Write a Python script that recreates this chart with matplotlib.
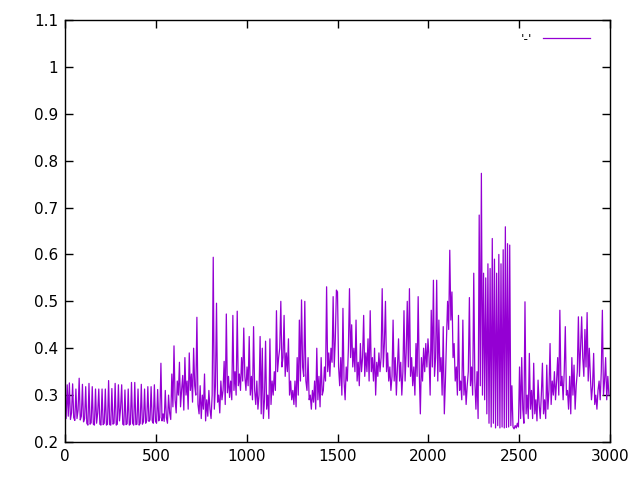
import numpy as np
import matplotlib
matplotlib.use("Agg")
import matplotlib.pyplot as plt

# sample values (thousandths), one every 6 x-units starting at 0
vals_0000 = [268, 250, 322, 255, 326, 248, 262, 324, 252, 246,
             313, 250, 268, 336, 247, 255, 323, 243, 250, 318,
             240, 236, 325, 238, 241, 318, 238, 236, 313, 240,
             262, 313, 238, 236, 313, 237, 240, 313, 236, 238,
             331, 237, 236, 314, 238, 240, 325, 236, 238, 322,
             245, 272, 322, 238, 236, 311, 237, 239, 313, 236,
             238, 327, 240, 236, 327, 237, 238, 313, 236, 240,
             323, 238, 243, 313, 240, 246, 318, 244, 247, 318,
             245, 240, 322, 244, 240, 312, 245, 252, 368, 245]
vals_0540 = [260, 244, 310, 252, 240, 300, 262, 248, 345, 275,
             405, 290, 262, 330, 300, 370, 275, 312, 342, 268,
             380, 300, 330, 270, 390, 310, 345, 285, 400, 320,
             300, 466, 280, 260, 320, 250, 300, 270, 345, 245,
             290, 255, 310, 270, 250, 300, 594, 270, 320, 496,
             285, 300, 262, 330, 290, 310, 372, 280, 473, 305,
             340, 295, 330, 290, 470, 310, 350, 300, 479, 320,
             345, 310, 380, 330, 443, 340, 310, 360, 320, 425]
vals_1020 = [300, 340, 290, 446, 310, 280, 330, 270, 300, 425,
             260, 400, 250, 290, 415, 270, 300, 250, 420, 280,
             330, 300, 350, 310, 480, 350, 380, 400, 500, 360,
             380, 470, 340, 390, 350, 420, 300, 330, 290, 310,
             280, 330, 275, 380, 300, 460, 330, 503, 360, 340,
             500, 330, 310, 380, 290, 300, 270, 310, 285, 330,
             270, 400, 290, 340, 275, 380, 300, 310, 360, 330,
             531, 350, 390, 340, 400, 370, 510, 360, 420, 524]
vals_1500 = [520, 360, 320, 380, 300, 485, 330, 290, 360, 330,
             400, 527, 380, 450, 360, 400, 350, 460, 330, 370,
             320, 410, 350, 380, 470, 340, 390, 350, 420, 330,
             480, 350, 380, 330, 400, 300, 370, 340, 390, 350,
             380, 527, 360, 410, 500, 350, 390, 330, 360, 310,
             340, 460, 330, 380, 300, 360, 420, 330, 370, 300,
             350, 480, 330, 390, 500, 360, 527, 340, 380, 320,
             360, 300, 410, 340, 510, 350, 260, 380, 330, 400]
vals_1980 = [350, 410, 360, 420, 380, 300, 481, 360, 545, 340,
             380, 545, 330, 460, 350, 380, 300, 446, 260, 330,
             420, 500, 440, 609, 460, 520, 380, 410, 330, 360,
             300, 470, 310, 330, 290, 460, 300, 340, 280, 320,
             350, 508, 320, 360, 300, 560, 330, 270, 350, 250,
             684, 320, 773, 300, 560, 290, 550, 260, 580, 240,
             570, 232, 634, 240, 590, 230, 560, 235, 600, 230,
             580, 232, 610, 230, 659, 231, 623, 232, 620, 235,
             320, 232, 228, 235, 230, 240, 232, 360, 250, 380]
vals_2520 = [270, 240, 499, 260, 300, 250, 389, 270, 310, 250,
             368, 260, 290, 245, 332, 280, 250, 300, 368, 260,
             290, 250, 364, 270, 310, 410, 280, 330, 300, 350,
             290, 330, 380, 300, 481, 320, 340, 290, 350, 446,
             300, 310, 270, 340, 260, 380, 300, 364, 270, 320,
             350, 467, 340, 400, 467, 380, 340, 440, 360, 476,
             330, 400, 340, 290, 320, 389, 280, 300, 270, 310,
             330, 290, 350, 481, 300, 330, 380, 290, 340, 300]

y = np.array(vals_0000 + vals_0540 + vals_1020 + vals_1500 + vals_1980 + vals_2520) / 1000.0
x = np.arange(len(y)) * 6

xticks = [0, 500, 1000, 1500, 2000, 2500, 3000]
xticklabels = ["0", "500", "1000", "1500", "2000", "2500", "3000"]
yticks = [0.2, 0.3, 0.4, 0.5, 0.6, 0.7, 0.8, 0.9, 1.0, 1.1]
yticklabels = ["0.2", "0.3", "0.4", "0.5", "0.6", "0.7", "0.8", "0.9", "1", "1.1"]

plt.rcParams['font.family'] = ['DejaVu Sans']
fig = plt.figure(figsize=(6.4, 4.8), dpi=100)
ax = fig.add_axes([65/640, 38/480, 545/640, 422/480])
ax.plot(x, y, color="#9400D3", lw=0.9, label="'-'")
ax.set_xlim(0, 3000)
ax.set_ylim(0.2, 1.1)
ax.set_xticks(xticks)
ax.set_xticklabels(xticklabels)
ax.set_yticks(yticks)
ax.set_yticklabels(yticklabels)
ax.tick_params(direction="in", length=6, width=1, top=True, right=True,
               labelsize=11, pad=5)
for s in ax.spines.values():
    s.set_linewidth(1)
leg = ax.legend(loc="upper right", bbox_to_anchor=(0.9725, 0.983),
                frameon=False, markerfirst=False,
                handlelength=3.8, handletextpad=0.8, fontsize=9,
                borderaxespad=0)
fig.savefig("out.png", dpi=100)
